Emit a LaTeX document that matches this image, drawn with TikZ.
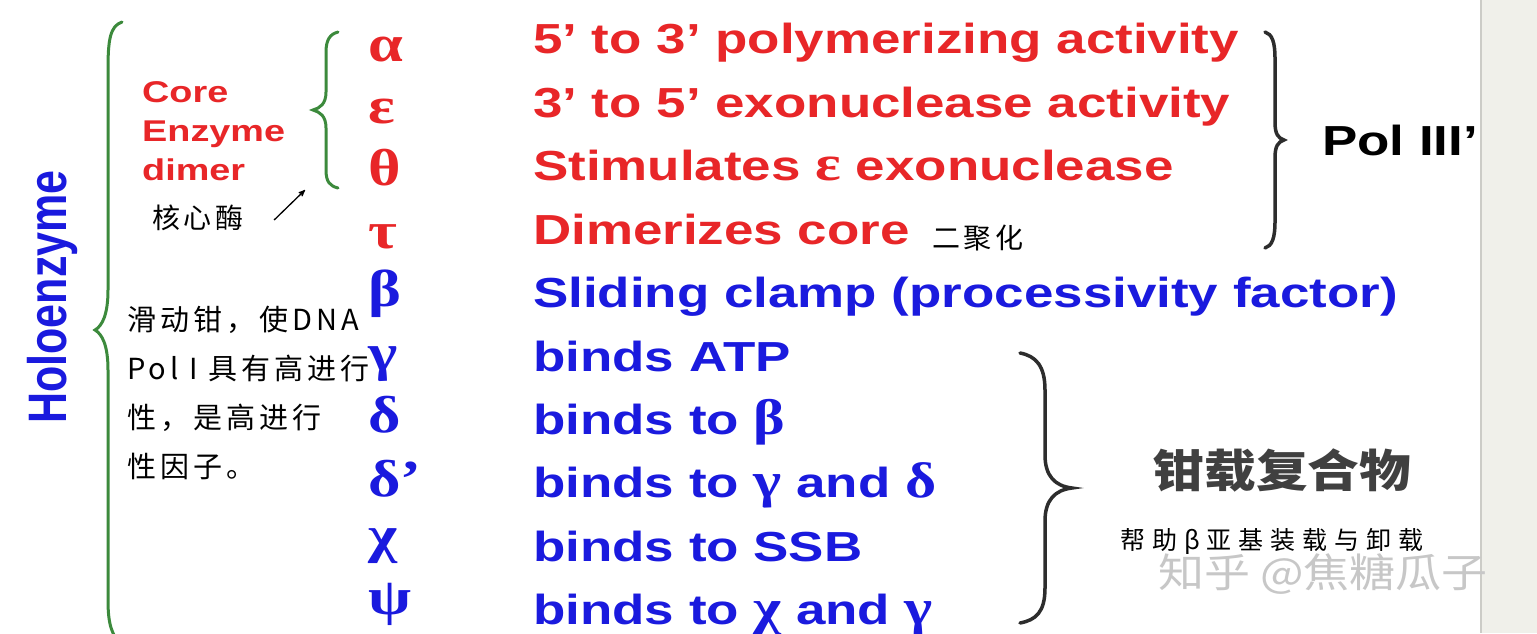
\documentclass[tikz,border=0pt]{standalone}
\usepackage{fontspec}
\usepackage{tikz}
\usetikzlibrary{arrows}

\newfontfamily\slidefont[FakeStretch=1.26]{Liberation Sans}
\newfontfamily\plainsans{Liberation Sans}
\newfontfamily\greekfont[FakeStretch=1.2]{Liberation Serif}
\newfontfamily\handfont[LetterSpace=14]{Noto Sans CJK SC}
\newfontfamily\widehand[LetterSpace=28]{Noto Sans CJK SC}
\newfontfamily\cjkfont[FakeStretch=1.15]{Noto Sans CJK SC}
\newcommand\gk[1]{{\greekfont\fontsize{50}{50}\selectfont #1}}

\definecolor{slidered}{RGB}{232,38,40}
\definecolor{slideblue}{RGB}{26,26,222}
\definecolor{bracegreen}{RGB}{60,138,60}
\definecolor{bracegray}{RGB}{45,45,45}
\definecolor{panelgray}{RGB}{240,240,234}

\tikzset{
    sub/.style={anchor=base west, inner sep=0pt, font=\greekfont\bfseries\fontsize{52}{52}\selectfont},
    role/.style={anchor=base west, inner sep=0pt, font=\slidefont\bfseries\fontsize{42}{42}\selectfont},
    note/.style={inner sep=1pt, font=\handfont\fontsize{28}{28}\selectfont},
    gbrace/.style={draw=bracegreen, line width=3pt, line cap=round},
    kbrace/.style={draw=bracegray, line width=3.5pt, line cap=round}
}

\begin{document}
\begin{tikzpicture}[x=1pt, y=-1pt]
    \useasboundingbox (0,0) rectangle (1537,633);
    \fill[white] (0,0) rectangle (1537,633);
    \fill[panelgray] (1481,0) rectangle (1537,633);
    \draw[panelgray!85!black, line width=1.5pt] (1481,0) -- (1481,633);

    % subunits
    \begin{scope}[every node/.style={sub, text=slidered}]
        \node (alpha) at (368,61) {α};
        \node (eps)   at (368,123) {ε};
        \node (theta) at (368,185) {θ};
        \node (tau)   at (368,248) {τ};
    \end{scope}
    \begin{scope}[every node/.style={sub, text=slideblue}]
        \node (beta)  at (368,306) {β};
        \node (gamma) at (368,370) {γ};
        \node (delta) at (368,432) {δ};
        \node (deltap) at (368,496) {δ’};
        \node (chi)   at (368,552) {χ};
        \node (psi)   at (368,614) {ψ};
    \end{scope}

    % roles
    \begin{scope}[every node/.style={role, text=slidered}]
        \node (polym) at (533,53) {5’ to 3’ polymerizing activity};
        \node (exo)   at (533,117) {3’ to 5’ exonuclease activity};
        \node (stim)  at (533,180) {Stimulates \gk{ε} exonuclease};
        \node (dimer) at (533,244) {Dimerizes core};
    \end{scope}
    \begin{scope}[every node/.style={role, text=slideblue}]
        \node (clamp) at (533,307) {Sliding clamp (processivity factor)};
        \node (atp)   at (533,371) {binds ATP};
        \node (tobeta) at (533,434) {binds to \gk{β}};
        \node (togd)  at (533,497) {binds to \gk{γ} and \gk{δ}};
        \node (ssb)   at (533,561) {binds to SSB};
        \node (tocg)  at (533,624) {binds to \gk{χ} and \gk{γ}};
    \end{scope}

    % groups
    \node[rotate=90, text=slideblue, inner sep=0pt, font=\plainsans\bfseries\fontsize{43}{43}\selectfont]
        (holo) at (52,297) {\scalebox{1}[1.26]{Holoenzyme}};
    \node[align=left, anchor=north west, inner sep=0pt, text=slidered,
          font=\slidefont\bfseries\fontsize{30}{39}\selectfont] (core) at (142,81) {Core\\Enzyme\\dimer};
    \node[anchor=base west, inner sep=0pt, text=black,
          font=\slidefont\bfseries\fontsize{42}{42}\selectfont] (pol3) at (1322,155) {Pol III’};
    \node[inner sep=0pt, text=black!75, font=\cjkfont\bfseries\fontsize{45}{45}\selectfont]
        (loader) at (1282,470) {钳载复合物};

    % braces
    \draw[gbrace] (122,22) .. controls (110,26) and (108,40) .. (108,70) -- (108,290)
        .. controls (108,315) and (102,326) .. (95,330) .. controls (102,334) and (108,345) .. (108,370)
        -- (108,600) .. controls (108,625) and (112,636) .. (122,645);
    \draw[gbrace] (338,32) .. controls (330,34) and (326,40) .. (326,52) -- (326,92)
        .. controls (326,104) and (320,108) .. (313,110) .. controls (320,112) and (326,116) .. (326,128)
        -- (326,170) .. controls (326,182) and (330,186) .. (338,188);
    \draw[kbrace] (1265,32) .. controls (1272,34) and (1275,42) .. (1275,58) -- (1275,122)
        .. controls (1275,134) and (1278,138) .. (1284,140) .. controls (1278,142) and (1275,146) .. (1275,158)
        -- (1275,222) .. controls (1275,238) and (1272,246) .. (1265,248);
    \draw[kbrace] (1020,353) .. controls (1036,356) and (1045,366) .. (1045,390) -- (1045,455)
        .. controls (1045,476) and (1055,486) .. (1072,488) .. controls (1055,490) and (1045,500) .. (1045,521)
        -- (1045,588) .. controls (1045,612) and (1036,620) .. (1020,623);

    % notes
    \node[note] (hexin) at (198,218) {核心酶};
    \coordinate (coretip) at (305,190);
    \draw[->, >=stealth', line width=1.3pt] ([xshift=29pt,yshift=-2pt]hexin.east) -- (coretip);
    \node[note] (erju) at (978,238) {二聚化};
    \node[note, align=left, anchor=north west, font=\handfont\fontsize{29}{49}\selectfont]
        (huadong) at (126,305) {滑动钳，使DNA\\Pol I 具有高进行\\性，是高进行\\性因子。};
    \node[note, font=\widehand\fontsize{25}{25}\selectfont] (bangzhu) at (1272,541) {帮助β亚基装载与卸载};
    \node[inner sep=0pt, text=black!22, font=\cjkfont\fontsize{40}{40}\selectfont]
        (mark) at (1323,574) {知乎 @焦糖瓜子};
\end{tikzpicture}
\end{document}
